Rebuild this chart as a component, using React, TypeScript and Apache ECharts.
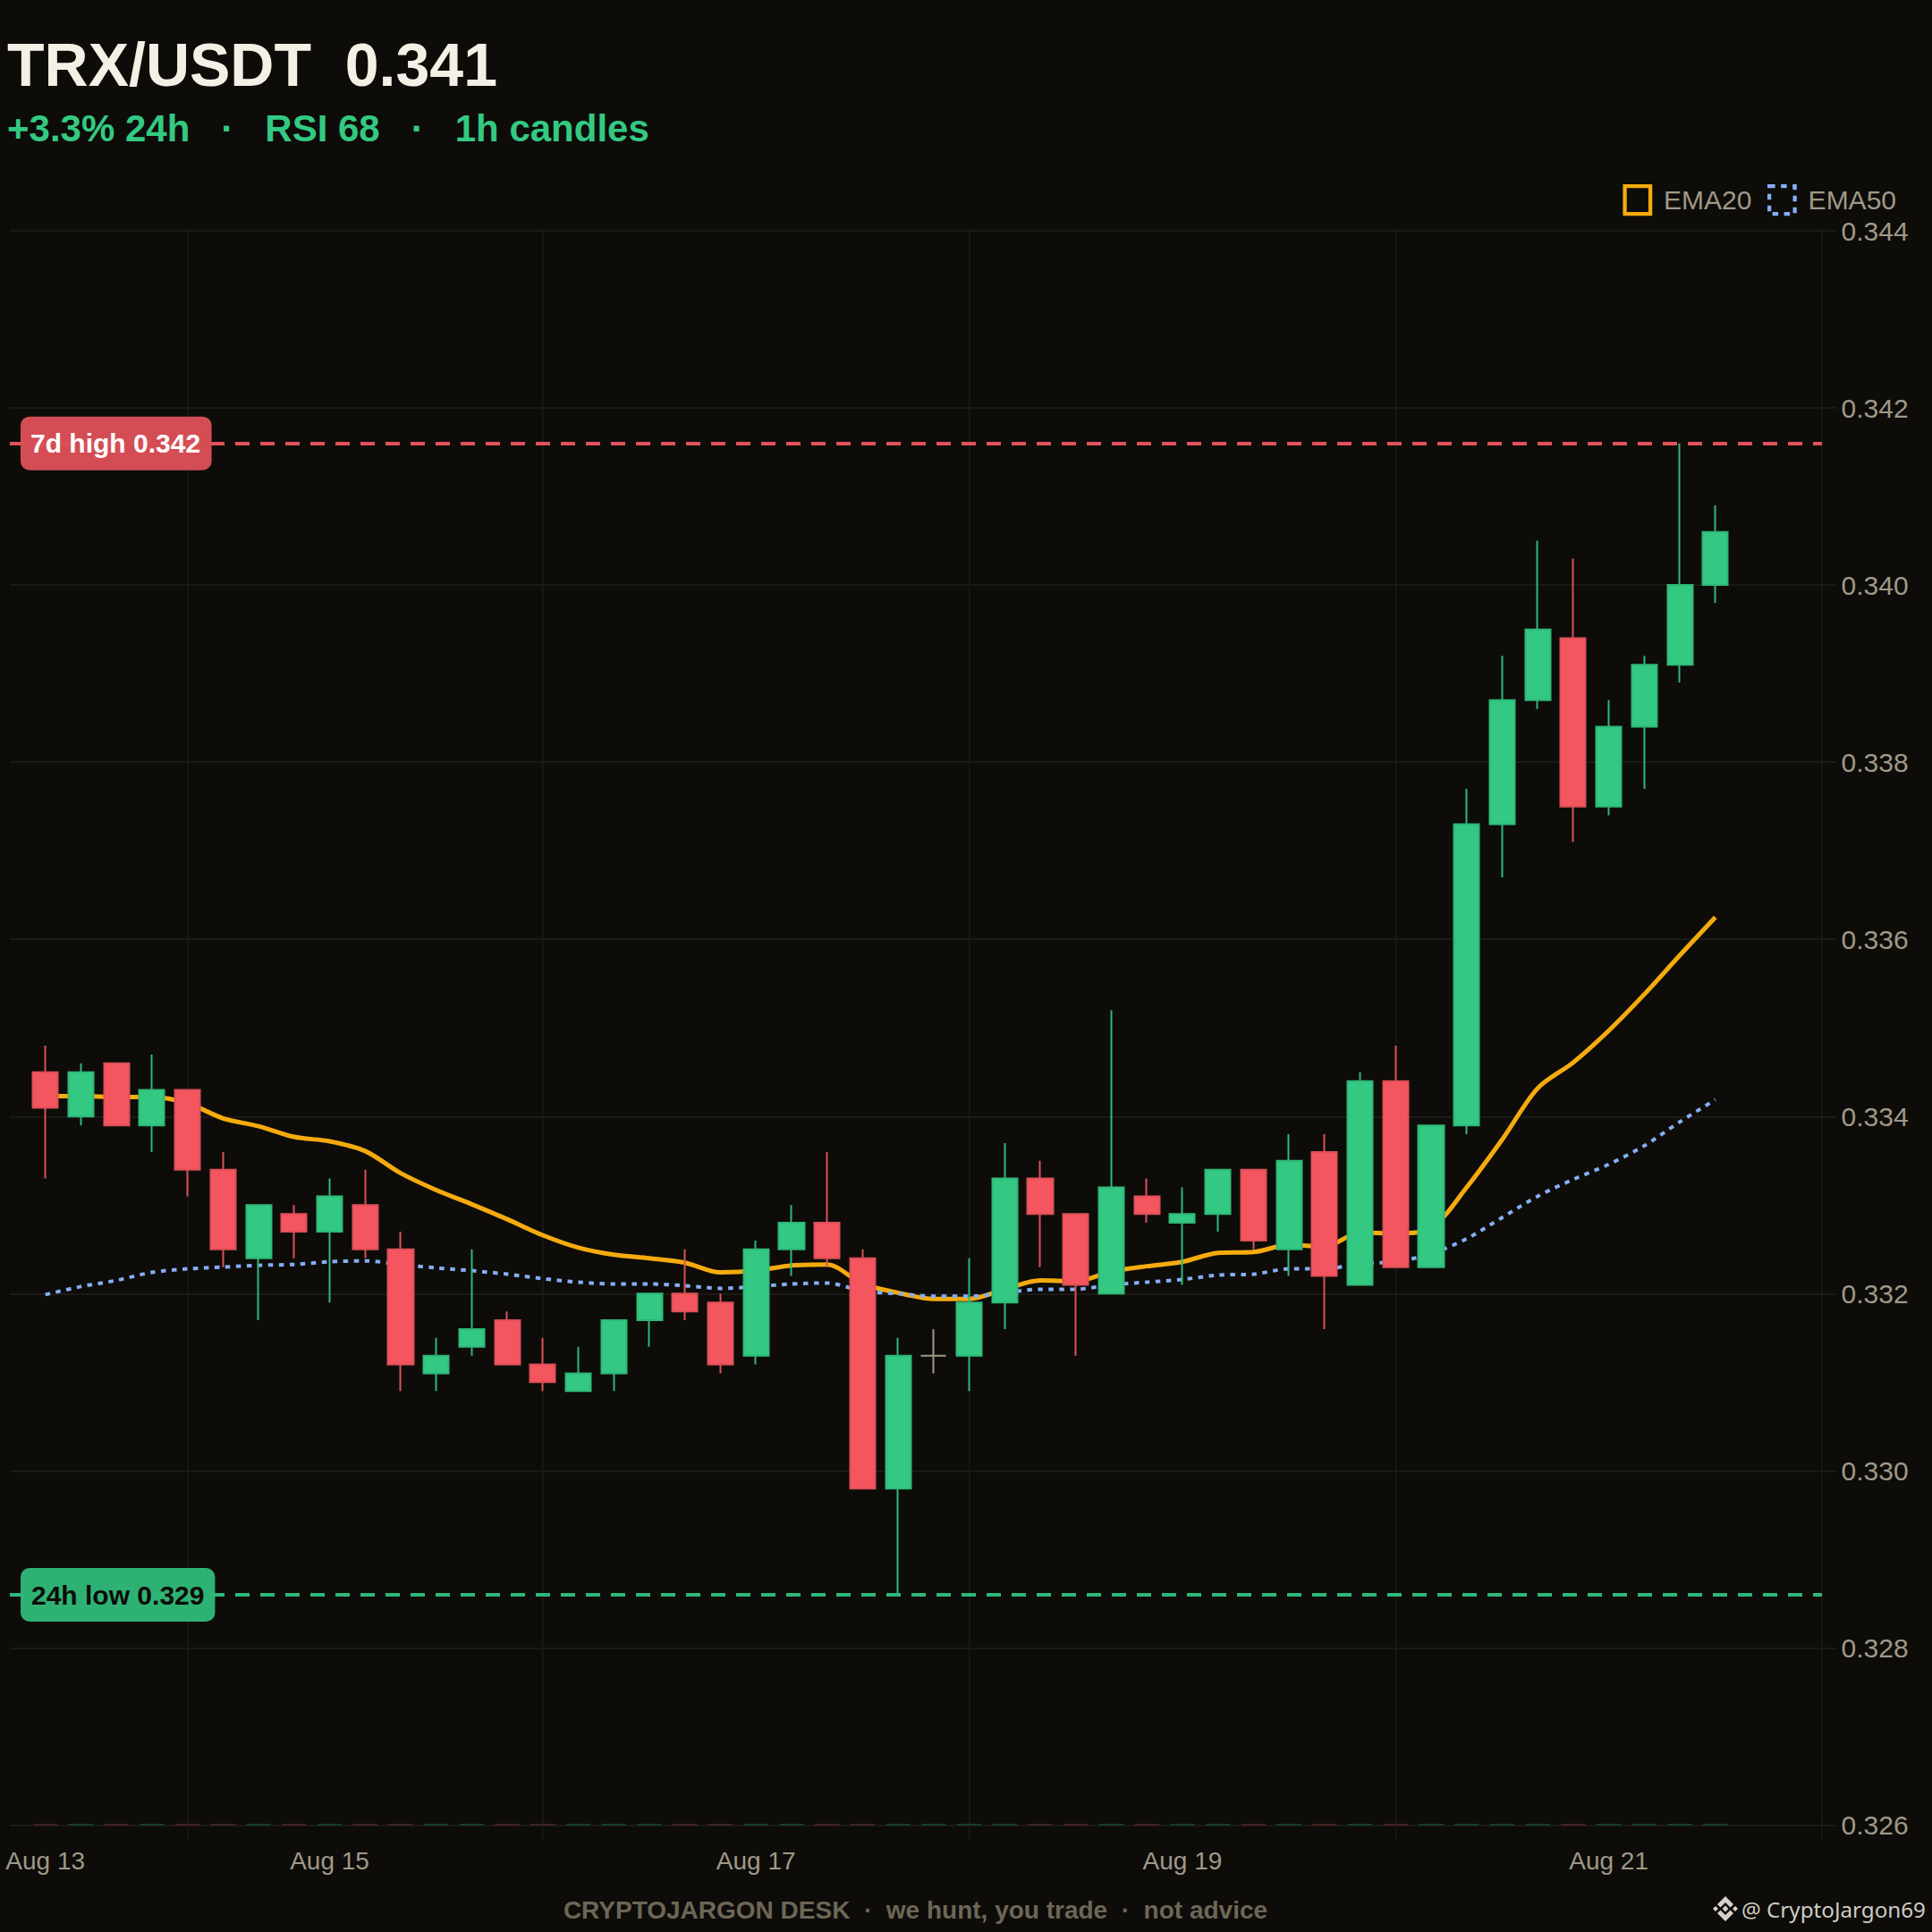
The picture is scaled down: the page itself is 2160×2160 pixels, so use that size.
import React, { useEffect, useRef } from "react";
import * as echarts from "echarts";

const SANS = "'Liberation Sans', Arial, sans-serif";
const BG = "#0d0c09";
const UP = "#34c982";
const DOWN = "#f4565f";
const MUTED = "#a09888";
const GRID = "#1b1a17";

const opens = [0.3345,0.3340,0.3346,0.3339,0.3343,0.3334,0.3324,0.3329,0.3327,0.3330,0.3325,0.3311,0.3314,0.3317,0.3312,0.3309,0.3311,0.3317,0.3320,0.3319,0.3313,0.3325,0.3328,0.3324,0.3298,0.3313,0.3313,0.3319,0.3333,0.3329,0.3320,0.3331,0.3328,0.3329,0.3334,0.3325,0.3336,0.3321,0.3344,0.3323,0.3339,0.3373,0.3387,0.3394,0.3375,0.3384,0.3391,0.3400];
const closes = [0.3341,0.3345,0.3339,0.3343,0.3334,0.3325,0.3330,0.3327,0.3331,0.3325,0.3312,0.3313,0.3316,0.3312,0.3310,0.3311,0.3317,0.3320,0.3318,0.3312,0.3325,0.3328,0.3324,0.3298,0.3313,0.3313,0.3319,0.3333,0.3329,0.3321,0.3332,0.3329,0.3329,0.3334,0.3326,0.3335,0.3322,0.3344,0.3323,0.3339,0.3373,0.3387,0.3395,0.3375,0.3384,0.3391,0.3400,0.3406];
const lows = [0.3333,0.3339,0.3339,0.3336,0.3331,0.3323,0.3317,0.3324,0.3319,0.3324,0.3309,0.3309,0.3313,0.3312,0.3309,0.3309,0.3309,0.3314,0.3317,0.3311,0.3312,0.3322,0.3323,0.3298,0.3286,0.3311,0.3309,0.3316,0.3323,0.3313,0.3320,0.3328,0.3321,0.3327,0.3325,0.3322,0.3316,0.3321,0.3323,0.3323,0.3338,0.3367,0.3386,0.3371,0.3374,0.3377,0.3389,0.3398];
const highs = [0.3348,0.3346,0.3346,0.3347,0.3343,0.3336,0.3330,0.3330,0.3333,0.3334,0.3327,0.3315,0.3325,0.3318,0.3315,0.3314,0.3317,0.3320,0.3325,0.3320,0.3326,0.3330,0.3336,0.3325,0.3315,0.3316,0.3324,0.3337,0.3335,0.3329,0.3352,0.3333,0.3332,0.3334,0.3334,0.3338,0.3338,0.3345,0.3348,0.3339,0.3377,0.3392,0.3405,0.3403,0.3387,0.3392,0.3416,0.3409];
const ema20 = [0.33423,0.33423,0.33422,0.33422,0.33415,0.33398,0.33389,0.33377,0.33372,0.33361,0.33336,0.33317,0.33301,0.33284,0.33266,0.33252,0.33244,0.33240,0.33235,0.33224,0.33226,0.33232,0.33233,0.33211,0.33201,0.33194,0.33194,0.33205,0.33215,0.33214,0.33225,0.33231,0.33236,0.33246,0.33247,0.33255,0.33253,0.33269,0.33268,0.33274,0.33320,0.33374,0.33432,0.33461,0.33497,0.33538,0.33582,0.33625];
const ema50 = [0.33199,0.33208,0.33215,0.33224,0.33228,0.33230,0.33232,0.33233,0.33236,0.33237,0.33233,0.33229,0.33226,0.33222,0.33217,0.33213,0.33211,0.33211,0.33209,0.33206,0.33208,0.33211,0.33212,0.33203,0.33200,0.33197,0.33197,0.33201,0.33205,0.33205,0.33210,0.33213,0.33216,0.33221,0.33222,0.33228,0.33228,0.33234,0.33236,0.33245,0.33262,0.33286,0.33310,0.33329,0.33346,0.33367,0.33394,0.33419];
const volumes = [0.326013,0.326013,0.326013,0.326013,0.326013,0.326013,0.326013,0.326013,0.326013,0.326013,0.326013,0.326013,0.326013,0.326013,0.326013,0.326013,0.326013,0.326013,0.326013,0.326013,0.326013,0.326013,0.326013,0.326013,0.326013,0.326013,0.326013,0.326013,0.326013,0.326013,0.326013,0.326013,0.326013,0.326013,0.326013,0.326013,0.326013,0.326013,0.326013,0.326013,0.326013,0.326013,0.326013,0.326013,0.326013,0.326013,0.326013,0.326013];

const LEAD = 1;
const TRAIL = 3;
const categories = Array.from({ length: LEAD + opens.length + TRAIL }, (_, i) => String(i - LEAD));
const dateLabels: Record<string, string> = { "0": "Aug 13", "8": "Aug 15", "20": "Aug 17", "32": "Aug 19", "44": "Aug 21" };
const gridCategories = ["4", "14", "26", "38", "50"];
const highLevel = 0.3416;
const lowLevel = 0.3286;

const titleText = "TRX/USDT  0.341";
const subText = "+3.3% 24h   ·   RSI 68   ·   1h candles";
const footerText = "CRYPTOJARGON DESK  ·  we hunt, you trade  ·  not advice";
const handleText = "@ CryptoJargon69";

const pad = (arr: any[]) => ["-", ...arr];
const isGridCat = (i: number) => gridCategories.includes(categories[i]);
const isLabelCat = (i: number) => categories[i] in dateLabels;

const levelPoint = (value: number, text: string, bg: string, fg: string, padX: number[]) => ({
  coord: [0, value],
  symbol: "circle",
  symbolSize: 0,
  label: {
    show: true,
    position: "right",
    distance: 12,
    formatter: text,
    backgroundColor: bg,
    borderRadius: 10,
    padding: [15, padX[1], 13, padX[0]],
    color: fg,
    fontFamily: SANS,
    fontWeight: "bold",
    fontSize: 30,
    lineHeight: 32,
  },
});

export default function App() {
  const ref = useRef<HTMLDivElement>(null);
  useEffect(() => {
    document.body.style.margin = "0";
    const chart = echarts.init(ref.current!, null, { renderer: "svg" });
    const logoColor = "#d6d2ca";
    chart.setOption({
      animation: false,
      backgroundColor: BG,
      textStyle: { fontFamily: SANS },
      graphic: [
        { type: "text", x: 8, y: 72, style: { text: titleText, fill: "#f5f0e6", font: `bold 68px ${SANS}`, textVerticalAlign: "middle" } },
        { type: "text", x: 8, y: 143, style: { text: subText, fill: UP, font: `bold 42px ${SANS}`, textVerticalAlign: "middle" } },
        { type: "text", x: 1023.5, y: 2135, style: { text: footerText, fill: "#6e6656", font: `bold 28px ${SANS}`, textAlign: "center", textVerticalAlign: "middle" } },
        { type: "text", x: 1947, y: 2134, style: { text: handleText, fill: "#cfcbc4", font: `24.2px 'Noto Sans', sans-serif`, textVerticalAlign: "middle" } },
        {
          type: "group",
          x: 1929,
          y: 2134,
          children: [
            { type: "polygon", shape: { points: [[0, -14], [9, -5], [5.5, -1.5], [0, -7], [-5.5, -1.5], [-9, -5]] }, style: { fill: logoColor } },
            { type: "polygon", shape: { points: [[0, 14], [9, 5], [5.5, 1.5], [0, 7], [-5.5, 1.5], [-9, 5]] }, style: { fill: logoColor } },
            { type: "polygon", shape: { points: [[0, -3.5], [3.5, 0], [0, 3.5], [-3.5, 0]] }, style: { fill: logoColor } },
            { type: "polygon", shape: { points: [[-11, -3], [-8, 0], [-11, 3], [-14, 0]] }, style: { fill: logoColor } },
            { type: "polygon", shape: { points: [[11, -3], [14, 0], [11, 3], [8, 0]] }, style: { fill: logoColor } },
          ],
        },
      ],
      legend: {
        right: 40,
        top: 206,
        padding: 0,
        itemWidth: 28.5,
        itemHeight: 31,
        itemGap: 17.5,
        textStyle: { color: MUTED, fontSize: 30, fontFamily: SANS, padding: [0, 0, 2, 10] },
        data: [
          { name: "EMA20", icon: "rect", itemStyle: { color: "transparent", borderColor: "#f5ab0e", borderWidth: 4.3 } },
          { name: "EMA50", icon: "rect", itemStyle: { color: "transparent", borderColor: "#86aef5", borderWidth: 4.3, borderType: [6.5, 6.5] } },
        ],
      },
      grid: { left: 11, right: 123, top: 258, bottom: 119.5 },
      xAxis: {
        type: "category",
        boundaryGap: false,
        data: categories,
        axisLine: { show: false },
        axisTick: { show: true, length: 16, interval: (i: number) => isGridCat(i), lineStyle: { color: GRID, width: 1.5 } },
        splitLine: { show: true, interval: (i: number) => isGridCat(i), lineStyle: { color: GRID, width: 1.5 } },
        axisLabel: {
          interval: (i: number) => isLabelCat(i),
          formatter: (v: string) => dateLabels[v] ?? "",
          color: MUTED,
          fontSize: 28,
          fontFamily: SANS,
          margin: 26,
        },
      },
      yAxis: {
        type: "value",
        position: "right",
        min: 0.326,
        max: 0.344,
        interval: 0.002,
        axisLine: { show: false },
        axisTick: { show: true, length: 16, lineStyle: { color: GRID, width: 2 } },
        splitLine: { show: true, lineStyle: { color: GRID, width: 2 } },
        axisLabel: { color: MUTED, fontSize: 30, fontFamily: SANS, margin: 21.5, padding: [0, 0, 1, 0], formatter: (v: number) => v.toFixed(3) },
      },
      series: [
        {
          name: "volume",
          type: "bar",
          z: 1,
          data: pad(volumes),
          barWidth: 27.5,
          itemStyle: {
            color: (p: any) => (closes[p.dataIndex - LEAD] >= opens[p.dataIndex - LEAD] ? "#14552f" : "#5a2a26"),
          },
          silent: true,
        },
        {
          name: "EMA20",
          type: "line",
          z: 2,
          data: pad(ema20),
          smooth: 0.3,
          showSymbol: false,
          lineStyle: { color: "#f5ab0e", width: 5 },
          itemStyle: { color: "#f5ab0e" },
        },
        {
          name: "EMA50",
          type: "line",
          z: 2,
          data: pad(ema50),
          smooth: 0.3,
          showSymbol: false,
          lineStyle: { color: "#86aef5", width: 4, type: [5.5, 6.5] },
          itemStyle: { color: "#86aef5" },
        },
        {
          name: "TRX/USDT",
          type: "candlestick",
          z: 5,
          barWidth: 28.6,
          data: [["-", "-", "-", "-"], ...opens.map((o, i) => [o, closes[i], lows[i], highs[i]])],
          itemStyle: {
            color: UP,
            color0: DOWN,
            borderColor: "#2fb878",
            borderColor0: "#dd5058",
            borderColorDoji: MUTED,
            borderWidth: 2,
          },
          markLine: {
            silent: true,
            symbol: "none",
            precision: 5,
            label: { show: false },
            data: [
              { yAxis: highLevel, lineStyle: { color: "#e0525a", width: 4, type: [16, 12] } },
              { yAxis: lowLevel, lineStyle: { color: "#2fb878", width: 4, type: [16, 12] } },
            ],
          },
          markPoint: {
            silent: true,
            data: [
              levelPoint(highLevel, "7d high 0.342", "rgba(219,80,88,0.97)", "#ffffff", [11, 12.5]),
              levelPoint(lowLevel, "24h low 0.329", "rgba(47,184,120,0.97)", BG, [12, 12]),
            ],
          },
        },
      ],
    });
    return () => chart.dispose();
  }, []);
  return <div ref={ref} style={{ position: "absolute", left: 0, top: 0, width: 2160, height: 2160 }} />;
}
